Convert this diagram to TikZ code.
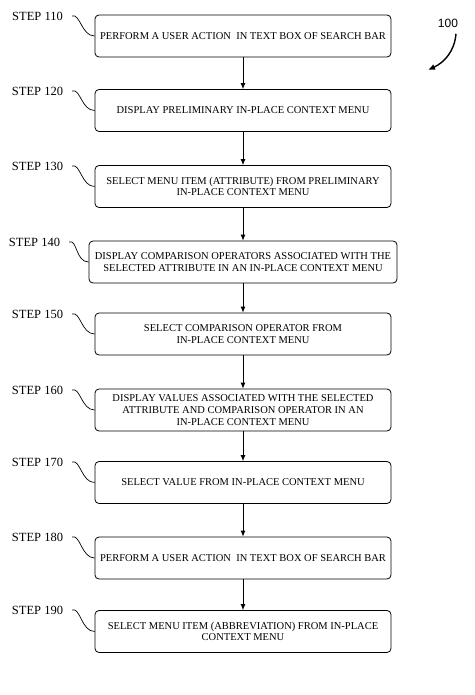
\documentclass[tikz,border=0pt]{standalone}
\usepackage{fontspec}
\setmainfont{Liberation Serif}
\newfontfamily\refsans{Liberation Sans}
\usetikzlibrary{arrows.meta}

\begin{document}
\begin{tikzpicture}[
    x=1pt, y=1pt,
    stepbox/.style={
        draw,
        line width=0.8pt,
        rounded corners=4pt,
        minimum width=296pt,
        minimum height=42pt,
        align=center,
        font=\fontsize{10.5}{11.6}\selectfont
    },
    steplabel/.style={
        font=\fontsize{12.5}{14}\selectfont,
        inner sep=1pt
    },
    flow/.style={
        line width=0.8pt,
        -{Latex[length=6pt,width=5pt]}
    },
    tie/.style={
        line width=0.7pt
    }
]
    \useasboundingbox (0,0) rectangle (474,-695);

    % --- Steps ---
    \node[stepbox] (s110) at (243,-36) {PERFORM A USER ACTION~~IN TEXT BOX OF SEARCH BAR};
    \node[stepbox] (s120) at (243,-110.5) {DISPLAY PRELIMINARY IN-PLACE CONTEXT MENU};
    \node[stepbox] (s130) at (243,-186.5) {SELECT MENU ITEM (ATTRIBUTE) FROM PRELIMINARY\\IN-PLACE CONTEXT MENU};
    \node[stepbox, minimum width=308pt] (s140) at (243,-262) {DISPLAY COMPARISON OPERATORS ASSOCIATED WITH THE\\SELECTED ATTRIBUTE IN AN IN-PLACE CONTEXT MENU};
    \node[stepbox] (s150) at (243,-334) {SELECT COMPARISON OPERATOR FROM\\IN-PLACE CONTEXT MENU};
    \node[stepbox] (s160) at (243,-410) {DISPLAY VALUES ASSOCIATED WITH THE SELECTED\\ATTRIBUTE AND COMPARISON OPERATOR IN AN\\IN-PLACE CONTEXT MENU};
    \node[stepbox] (s170) at (243,-482.5) {SELECT VALUE FROM IN-PLACE CONTEXT MENU};
    \node[stepbox] (s180) at (243,-558) {PERFORM A USER ACTION~~IN TEXT BOX OF SEARCH BAR};
    \node[stepbox] (s190) at (243,-631.5) {SELECT MENU ITEM (ABBREVIATION) FROM IN-PLACE\\CONTEXT MENU};

    % --- Step labels ---
    \node[steplabel] (l110) at (37.5,-16) {STEP 110};
    \node[steplabel] (l120) at (37.5,-91) {STEP 120};
    \node[steplabel] (l130) at (37.5,-166) {STEP 130};
    \node[steplabel] (l140) at (34.5,-242) {STEP 140};
    \node[steplabel] (l150) at (37.5,-314) {STEP 150};
    \node[steplabel] (l160) at (37.5,-390) {STEP 160};
    \node[steplabel] (l170) at (37.5,-462) {STEP 170};
    \node[steplabel] (l180) at (37.5,-537) {STEP 180};
    \node[steplabel] (l190) at (37.5,-610) {STEP 190};

    % --- Label ties ---
    \draw[tie] ([xshift=8pt]l110.east) .. controls +(8,3) and +(-13,0) .. (s110.west);
    \draw[tie] ([xshift=8pt]l120.east) .. controls +(8,3) and +(-13,0) .. (s120.west);
    \draw[tie] ([xshift=8pt]l130.east) .. controls +(8,3) and +(-13,0) .. (s130.west);
    \draw[tie] ([xshift=8pt]l140.east) .. controls +(8,3) and +(-13,0) .. (s140.west);
    \draw[tie] ([xshift=8pt]l150.east) .. controls +(8,3) and +(-13,0) .. (s150.west);
    \draw[tie] ([xshift=8pt]l160.east) .. controls +(8,3) and +(-13,0) .. (s160.west);
    \draw[tie] ([xshift=8pt]l170.east) .. controls +(8,3) and +(-13,0) .. (s170.west);
    \draw[tie] ([xshift=8pt]l180.east) .. controls +(8,3) and +(-13,0) .. (s180.west);
    \draw[tie] ([xshift=8pt]l190.east) .. controls +(8,3) and +(-13,0) .. (s190.west);

    % --- Flow ---
    \draw[flow] (s110) -- (s120);
    \draw[flow] (s120) -- (s130);
    \draw[flow] (s130) -- (s140);
    \draw[flow] (s140) -- (s150);
    \draw[flow] (s150) -- (s160);
    \draw[flow] (s160) -- (s170);
    \draw[flow] (s170) -- (s180);
    \draw[flow] (s180) -- (s190);

    % --- Figure number ---
    \node[font=\refsans\fontsize{12}{14}\selectfont] (fig) at (448,-23) {100};
    \coordinate (figend) at (428,-70);
    \draw[line width=1.4pt, -{Latex[length=7pt,width=6pt]}]
        ([xshift=8pt,yshift=-3pt]fig.south) to[out=-95,in=25] (figend);
\end{tikzpicture}
\end{document}
